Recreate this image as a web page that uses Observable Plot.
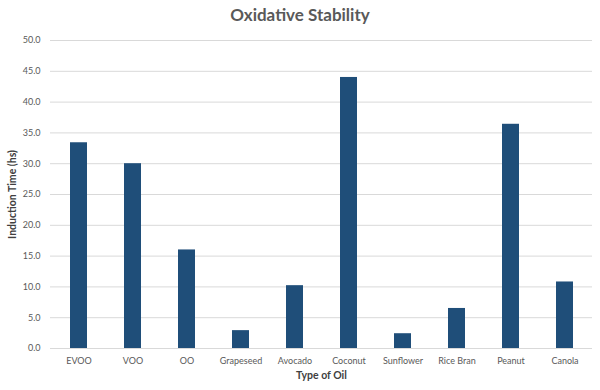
<!DOCTYPE html>
<html>
<head>
<meta charset="utf-8">
<script src="https://cdn.jsdelivr.net/npm/d3@7"></script>
<script src="https://cdn.jsdelivr.net/npm/@observablehq/plot@0.6"></script>
<style>
  html, body { margin: 0; padding: 0; background: #fff; }
  #wrap { width: 600px; height: 390px; font-family: Lato, "Open Sans", sans-serif; }
  #title { height: 30px; line-height: 30px; text-align: center; font-size: 17px; font-weight: bold; color: #595959; }
  svg [aria-label="x-axis label"], svg [aria-label="y-axis label"] { font-weight: bold; font-size: 10.5px; fill: #404040; }
</style>
</head>
<body>
<div id="wrap">
  <div id="title">Oxidative Stability</div>
  <div id="chart"></div>
</div>
<script>
const oils = ["EVOO", "VOO", "OO", "Grapeseed", "Avocado", "Coconut", "Sunflower", "Rice Bran", "Peanut", "Canola"];
const inductionTime = [33.4, 30.0, 16.0, 2.9, 10.2, 44.0, 2.4, 6.5, 36.4, 10.8];
const yTicks = [0, 5, 10, 15, 20, 25, 30, 35, 40, 45, 50];

const data = oils.map((o, i) => ({oil: o, value: inductionTime[i]}));

const chart = Plot.plot({
  width: 600,
  height: 360,
  marginTop: 10,
  marginBottom: 42,
  marginLeft: 50,
  marginRight: 8,
  style: {fontFamily: "Lato, 'Open Sans', sans-serif", fontSize: "9px", color: "#595959", background: "#fff"},
  x: {domain: oils, paddingInner: 0.69, paddingOuter: 0.345, align: 0.5},
  y: {domain: [0, 50]},
  marks: [
    Plot.gridY(yTicks, {stroke: "#d9d9d9", strokeOpacity: 1, strokeWidth: 1}),
    Plot.barY(data, {x: "oil", y: "value", fill: "#1f4e79"}),
    Plot.axisY(yTicks, {tickSize: 0, tickPadding: 10, tickFormat: d3.format(".1f"), label: "Induction Time (hs)", labelAnchor: "center", labelArrow: "none", labelOffset: 42}),
    Plot.axisX({tickSize: 0, tickPadding: 9, label: "Type of Oil", labelAnchor: "center", labelArrow: "none", labelOffset: 30})
  ]
});
document.getElementById("chart").appendChild(chart);
</script>
</body>
</html>
